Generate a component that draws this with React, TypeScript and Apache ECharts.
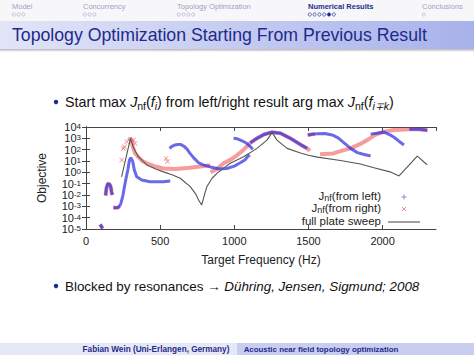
import React, { useEffect, useRef } from 'react';
import * as echarts from 'echarts';

// ---- data (frequency in Hz, objective value) ----
const xTicks = [0, 500, 1000, 1500, 2000];
const yDecades = [-5, -4, -3, -2, -1, 0, 1, 2, 3, 4];

const sweep: [number, number][] = [
  [240, 0.4], [270, 20], [300, 1000], [320, 150], [353, 24], [410, 4.5], [470, 2], [522, 1.1],
  [580, 0.6], [635, 0.3], [703, 0.054], [740, 0.012], [759, 0.0036], [780, 0.0013], [800, 0.012],
  [815, 0.054], [850, 0.3], [883, 0.8], [930, 2.5], [973, 6.3], [1063, 24], [1153, 130],
  [1220, 700], [1255, 3200], [1288, 700], [1356, 130], [1446, 50], [1500, 32], [1560, 22],
  [1716, 11], [1850, 5.5], [1941, 2.5], [2050, 1.1], [2111, 0.48], [2234, 27], [2300, 4.7],
];

const lowDots: [number, number][] = [[95, 2.5e-5], [105, 1.6e-5], [112, 1.1e-5]];
const arch: [number, number][] = [[132, 0.009], [138, 0.04], [146, 0.09], [156, 0.1], [166, 0.06], [172, 0.02], [177, 0.01]];
const flatLow: [number, number][] = [[185, 0.0008], [200, 0.00075], [215, 0.0008], [228, 0.001]];

const leftRise: [number, number][] = [
  [228, 0.001], [236, 0.002], [248, 0.008], [259, 0.05], [270, 0.3], [282, 1.6], [293, 12], [302, 20],
  [315, 9], [326, 1.6], [342, 0.4], [376, 0.21], [432, 0.15], [522, 0.15], [568, 0.17],
];
const leftHump: [number, number][] = [
  [563, 130], [580, 200], [600, 260], [620, 290], [640, 280], [660, 200], [680, 120], [700, 50],
  [725, 20], [759, 7], [790, 4.5], [838, 3], [900, 2], [950, 2.2], [1000, 3.5], [1040, 7],
  [1074, 13], [1090, 25], [1105, 34],
];
const leftShort: [number, number][] = [[995, 1000], [1020, 900], [1041, 700], [1065, 500], [1085, 350], [1105, 200], [1125, 110]];
const sharedPeak: [number, number][] = [
  [1108, 400], [1153, 1000], [1200, 2200], [1255, 3500], [1311, 2800], [1378, 1000], [1446, 280], [1491, 130],
];
const leftHigh: [number, number][] = [
  [1495, 2000], [1560, 2600], [1610, 2700], [1660, 2000], [1700, 1100], [1740, 400], [1784, 130],
  [1830, 55], [1870, 40], [1919, 28],
];
const leftLate: [number, number][] = [[1919, 2350], [1960, 2800], [2009, 3500], [2050, 2000], [2077, 1250], [2110, 560], [2144, 260]];
const leftEnd: [number, number][] = [[2180, 6300], [2240, 6600], [2302, 5200]];

const rightPeak: [number, number][] = [
  [290, 600], [297, 1000], [305, 800], [315, 200], [330, 50], [353, 22], [380, 10], [410, 6.3],
  [460, 3.5], [522, 2.2], [600, 2.0], [700, 2.5], [770, 3.2], [838, 4.2],
];
const rightClimb: [number, number][] = [
  [840, 1.0], [883, 2], [928, 6.3], [973, 12.6], [1018, 32], [1063, 100], [1108, 400],
  [1153, 1000], [1200, 2200], [1255, 3500], [1311, 2800], [1378, 1000], [1446, 280], [1491, 130], [1510, 80],
];
const rightShort: [number, number][] = [[1495, 2000], [1545, 2500]];
const rightLate: [number, number][] = [
  [1578, 40], [1667, 47], [1739, 90], [1784, 130], [1850, 320], [1896, 700], [1950, 2000],
  [2009, 3900], [2077, 5500], [2150, 6000], [2211, 6600], [2302, 5200],
];
const rightStray: [number, number][] = [[241, 12], [252, 130], [258, 180], [275, 500], [320, 700], [331, 350], [540, 17], [549, 9]];

const NAME_L = 'Jnf(from left)';
const NAME_R = 'Jnf(from right)';
const NAME_S = 'full plate sweep';

const CROSS = 'path://M1,0L5,4L9,0L10,1L6,5L10,9L9,10L5,6L1,10L0,9L4,5L0,1Z';

const BLUE = '#2b2be0';
const RED = '#ee3a3a';
const FONT = 'Liberation Sans';
const SLIDE_FONT = 'Liberation Sans';
const NAVY = '#1e2a8c';

export default function App() {
  const ref = useRef<HTMLDivElement>(null);
  useEffect(() => {
    const chart = echarts.init(ref.current!, null, { renderer: 'svg' });

    const leftLine = (data: [number, number][]) => ({
      type: 'line', name: NAME_L, data, showSymbol: false, symbol: 'none', z: 4,
      lineStyle: { color: BLUE, width: 3, opacity: 0.7 }, itemStyle: { color: BLUE },
    });
    const rightLine = (data: [number, number][]) => ({
      type: 'line', name: NAME_R, data, showSymbol: false, symbol: 'none', z: 3,
      lineStyle: { color: RED, width: 4, opacity: 0.5 }, itemStyle: { color: '#f08080' },
    });

    const legendRich = {
      t: { fontFamily: FONT, fontSize: 11.5, fill: '#222', lineHeight: 12 },
      sub: { fontFamily: FONT, fontSize: 9, fill: '#222', verticalAlign: 'bottom', lineHeight: 6 },
    };
    const legendRow = (label: string, y: number) => ({
      type: 'text', x: 381, y, z: 100,
      style: { text: label, fill: '#222', font: `11.5px ${FONT}`, lineHeight: 12, align: 'right', verticalAlign: 'middle', rich: legendRich },
    });

    const option: any = {
      animation: false,
      backgroundColor: '#ffffff',
      grid: { left: 86, right: 38, top: 127, bottom: 126, containLabel: false },
      xAxis: [
        {
          type: 'value', min: 0, max: 2360, interval: 500,
          name: 'Target Frequency (Hz)', nameLocation: 'middle', nameGap: 25,
          nameTextStyle: { fontFamily: FONT, fontSize: 12, color: '#222' },
          axisLine: { lineStyle: { color: '#444', width: 1 } },
          axisTick: { inside: true, length: 4, lineStyle: { color: '#444' } },
          axisLabel: { fontFamily: FONT, fontSize: 11, color: '#222', margin: 6, showMaxLabel: false, formatter: (v: number) => String(v) },
          splitLine: { show: false },
        },
        {
          type: 'value', min: 0, max: 2360, interval: 500, position: 'top',
          axisLine: { lineStyle: { color: '#444', width: 1 } },
          axisTick: { inside: true, length: 4, lineStyle: { color: '#444' } },
          axisLabel: { show: false }, splitLine: { show: false },
        },
      ],
      yAxis: [
        {
          type: 'log', logBase: 10, min: 1e-5, max: 1e4, splitNumber: 9,
          name: 'Objective', nameLocation: 'middle', nameGap: 38, nameRotate: 90,
          nameTextStyle: { fontFamily: FONT, fontSize: 12, color: '#222' },
          axisLine: { show: true, lineStyle: { color: '#444', width: 1 } },
          axisTick: { show: true, inside: true, length: 4, lineStyle: { color: '#444' } },
          axisLabel: {
            margin: 5, fontFamily: FONT, fontSize: 11, color: '#222',
            showMinLabel: true, showMaxLabel: true, hideOverlap: false,
            formatter: (v: number) => {
              const e = Math.round(Math.log10(v));
              return yDecades.includes(e) ? `10{sup|${e}}` : '';
            },
            rich: {
              sup: { fontSize: 8, fontFamily: FONT, color: '#222', verticalAlign: 'top', lineHeight: 6 },
            },
            lineHeight: 9,
          },
          splitLine: { show: false },
        },
        {
          type: 'log', logBase: 10, min: 1e-5, max: 1e4, splitNumber: 9, position: 'right',
          axisLine: { show: true, lineStyle: { color: '#444', width: 1 } },
          axisTick: { show: true, inside: true, length: 4, lineStyle: { color: '#444' } },
          axisLabel: { show: false }, splitLine: { show: false },
        },
      ],
      series: [
        rightLine(lowDots), rightLine(arch), rightLine(flatLow), rightLine(rightPeak),
        rightLine(rightClimb), rightLine(rightShort), rightLine(rightLate),
        {
          type: 'scatter', name: NAME_R, data: rightStray, symbol: CROSS, symbolSize: 5, z: 3,
          itemStyle: { color: RED, opacity: 0.6 },
        },
        leftLine(lowDots), leftLine(arch), leftLine(flatLow), leftLine(leftRise), leftLine(leftHump),
        leftLine(leftShort), leftLine(sharedPeak), leftLine(leftHigh), leftLine(leftLate), leftLine(leftEnd),
        {
          type: 'line', name: NAME_S, data: sweep, showSymbol: false, symbol: 'none', z: 5,
          lineStyle: { color: '#555', width: 1.1 }, itemStyle: { color: '#555' },
        },
      ],
      graphic: [
        // legend (inside plot, gnuplot style: text right-aligned, sample on the right)
        legendRow('{t|J}{sub|nf}{t|(from left)}', 196),
        legendRow('{t|J}{sub|nf}{t|(from right)}', 208),
        legendRow(NAME_S, 221),
        { type: 'line', z: 100, shape: { x1: 401.5, y1: 197, x2: 406.5, y2: 197 }, style: { stroke: '#8c8cd0', lineWidth: 1 } },
        { type: 'line', z: 100, shape: { x1: 404, y1: 194.5, x2: 404, y2: 199.5 }, style: { stroke: '#8c8cd0', lineWidth: 1 } },
        { type: 'line', z: 100, shape: { x1: 402, y1: 207, x2: 406, y2: 211 }, style: { stroke: '#f09090', lineWidth: 1 } },
        { type: 'line', z: 100, shape: { x1: 406, y1: 207, x2: 402, y2: 211 }, style: { stroke: '#f09090', lineWidth: 1 } },
        { type: 'line', z: 100, shape: { x1: 388, y1: 222, x2: 420, y2: 222 }, style: { stroke: '#555', lineWidth: 1.1 } },
        // header bar
        { type: 'rect', shape: { x: 0, y: 0, width: 474, height: 21 }, style: { fill: '#f7f7fa' }, silent: true },
        ...[
          ['Model', 12, 3, -1], ['Concurrency', 83, 3, -1], ['Topology Optimization', 177, 4, -1],
          ['Numerical Results', 308, 6, 4], ['Conclusions', 422, 1, -1],
        ].flatMap(([t, x, n, act]: any) => {
          const active = t === 'Numerical Results';
          const items: any[] = [
            {
              type: 'text', x, y: 2,
              style: { text: t, fill: active ? NAVY : '#9ea2c0', font: `${active ? 'bold ' : ''}7.5px ${SLIDE_FONT}` },
            },
          ];
          for (let i = 0; i < n; i++) {
            items.push({
              type: 'circle', shape: { cx: x + 1.8 + i * 4.8, cy: 14.5, r: 1.6 },
              style: { fill: i === act ? NAVY : 'none', stroke: active ? NAVY : '#a8acc8', lineWidth: 0.7 },
            });
          }
          return items;
        }),
        // title bar
        {
          type: 'rect', shape: { x: 0, y: 48, width: 474, height: 4 },
          style: { fill: new echarts.graphic.LinearGradient(0, 0, 0, 1, [{ offset: 0, color: '#9a9aa8' }, { offset: 1, color: '#ffffff' }]) },
        },
        {
          type: 'rect', shape: { x: 0, y: 21, width: 474, height: 28 },
          style: { fill: new echarts.graphic.LinearGradient(0, 0, 1, 0, [{ offset: 0, color: '#e2e5f7' }, { offset: 1, color: '#a8b2ea' }]) },
        },
        {
          type: 'text', x: 12, y: 35, style: { text: 'Topology Optimization Starting From Previous Result', fill: NAVY, font: `17.7px ${SLIDE_FONT}`, verticalAlign: 'middle' },
        },
        // bullets
        { type: 'circle', shape: { cx: 56, cy: 102, r: 2.2 }, style: { fill: NAVY } },
        {
          type: 'text', x: 65, y: 102,
          style: {
            text: 'Start max {i|J}{s|nf}({i|f}{si|i}) from left/right result arg max {i|J}{s|nf}({i|f}{si|i∓k})',
            fill: '#111', font: `14.3px ${SLIDE_FONT}`, verticalAlign: 'middle',
            rich: {
              i: { fontStyle: 'italic', fontSize: 14.3, fontFamily: SLIDE_FONT, fill: '#111' },
              s: { fontSize: 10.5, fontFamily: SLIDE_FONT, fill: '#111', verticalAlign: 'bottom', lineHeight: 19 },
              si: { fontSize: 10.5, fontStyle: 'italic', fontFamily: SLIDE_FONT, fill: '#111', verticalAlign: 'bottom', lineHeight: 19 },
            },
          },
        },
        { type: 'circle', shape: { cx: 56, cy: 286, r: 2.2 }, style: { fill: NAVY } },
        {
          type: 'text', x: 65, y: 286,
          style: {
            text: 'Blocked by resonances → {it|Dühring, Jensen, Sigmund; 2008}',
            fill: '#111', font: `13.4px ${SLIDE_FONT}`, verticalAlign: 'middle',
            rich: { it: { fontStyle: 'italic', fontSize: 13.4, fontFamily: SLIDE_FONT, fill: '#111' } },
          },
        },
        // footer
        { type: 'rect', shape: { x: 0, y: 343, width: 237, height: 12 }, style: { fill: '#e6e8f6' } },
        { type: 'rect', shape: { x: 237, y: 343, width: 237, height: 12 }, style: { fill: '#c9cef0' } },
        {
          type: 'text', x: 156, y: 349,
          style: { text: 'Fabian Wein (Uni-Erlangen, Germany)', fill: NAVY, font: `bold 8.2px ${SLIDE_FONT}`, align: 'center', verticalAlign: 'middle' },
        },
        {
          type: 'text', x: 321, y: 349,
          style: { text: 'Acoustic near field topology optimization', fill: NAVY, font: `bold 7.9px ${SLIDE_FONT}`, align: 'center', verticalAlign: 'middle' },
        },
      ],
    };
    chart.setOption(option);
    return () => chart.dispose();
  }, []);
  return <div ref={ref} style={{ position: 'fixed', left: 0, top: 0, width: 474, height: 355, background: '#fff' }} />;
}
